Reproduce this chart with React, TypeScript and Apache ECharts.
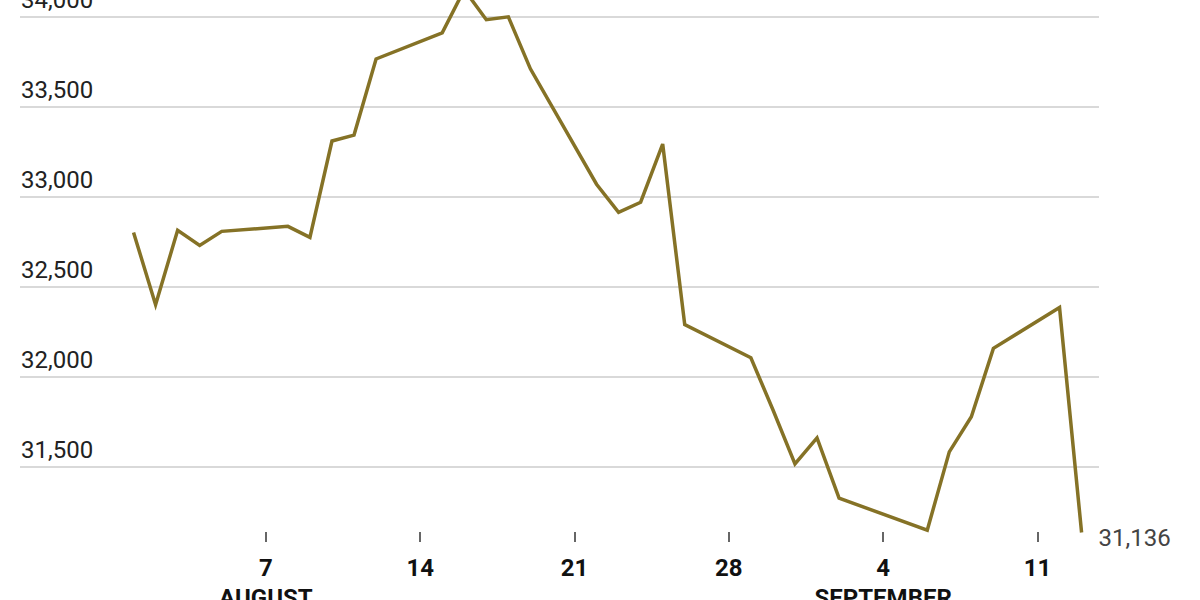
import { useEffect, useRef } from "react";
import * as echarts from "echarts";

// trading days, Aug 1 – Sep 13 (month index 7 = August)
const dates: [number, number][] = [
  [7, 1], [7, 2], [7, 3], [7, 4], [7, 5],
  [7, 8], [7, 9], [7, 10], [7, 11], [7, 12],
  [7, 15], [7, 16], [7, 17], [7, 18], [7, 19],
  [7, 22], [7, 23], [7, 24], [7, 25], [7, 26],
  [7, 29], [7, 30], [7, 31], [8, 1], [8, 2],
  [8, 6], [8, 7], [8, 8], [8, 9],
  [8, 12], [8, 13],
];

const closes: number[] = [
  32803, 32402, 32815, 32731, 32809,
  32837, 32776, 33311, 33344, 33767,
  33912, 34152, 33985, 34001, 33712,
  33071, 32915, 32971, 33294, 32291,
  32107, 31818, 31517, 31662, 31327,
  31149, 31584, 31779, 32159, 32386,
  31136,
];

// weekly ticks on the x axis
const tickDates: [number, number][] = [
  [7, 7], [7, 14], [7, 21], [7, 28], [8, 4], [8, 11],
];
const monthLabels: Record<string, string> = {
  "7-7": "AUGUST",
  "8-4": "SEPTEMBER",
};

const endLabel = "31,136";

const DAY = 86400000;
const ORIGIN = new Date(2022, 7, 1).getTime();
// days since Aug 1
const dayOf = ([m, d]: [number, number]) =>
  Math.round((new Date(2022, m, d).getTime() - ORIGIN) / DAY);

// chart is taller than the page and shifted up, so the top is cropped
const SHIFT = 73;

const App = () => {
  const chartRef = useRef<HTMLDivElement>(null);

  useEffect(() => {
    if (!chartRef.current) return;
    document.body.style.margin = "0";
    document.body.style.overflow = "hidden";

    const chart = echarts.init(chartRef.current, null, { renderer: "svg" });
    const ticks = tickDates.map(dayOf);

    const option: echarts.EChartsOption = {
      animation: false,
      grid: {
        left: 20,
        right: 101,
        top: 0,
        bottom: 43,
        containLabel: false,
        outerBoundsMode: "none",
      } as any,
      xAxis: {
        type: "value",
        min: -5.15,
        max: 43.79,
        offset: -25,
        axisLine: { show: false },
        axisTick: {
          show: true,
          length: 10,
          lineStyle: { color: "#333", width: 1.5 },
          customValues: ticks,
        } as any,
        axisLabel: {
          customValues: ticks,
          margin: 21,
          hideOverlap: false,
          formatter: (v: number) => {
            const d = new Date(ORIGIN + Math.round(v) * DAY);
            const m = monthLabels[`${d.getMonth()}-${d.getDate()}`];
            return m ? `{d|${d.getDate()}}\n{m|${m}}` : `{d|${d.getDate()}}`;
          },
          rich: {
            d: {
              fontFamily: "'Liberation Sans Narrow', Roboto",
              fontWeight: "bold",
              fontSize: 24,
              color: "#111",
              lineHeight: 30,
            },
            m: {
              fontFamily: "'Liberation Sans Narrow', Roboto",
              fontWeight: "bold",
              fontSize: 24,
              color: "#111",
              lineHeight: 30,
            },
          },
        } as any,
        splitLine: { show: false },
      },
      yAxis: {
        type: "value",
        min: 31000,
        max: 34500,
        interval: 500,
        axisLine: { show: false },
        axisTick: { show: false },
        axisLabel: {
          inside: true,
          margin: 1,
          verticalAlign: "bottom",
          padding: [0, 0, 5, 0],
          color: "#222",
          fontFamily: "Roboto",
          fontSize: 24,
          showMinLabel: false,
          showMaxLabel: false,
          formatter: (v: number) =>
            v === 31000 || v === 34500 ? "" : v.toLocaleString("en-US"),
        },
        splitLine: {
          show: true,
          showMinLine: false,
          lineStyle: { color: "#d9d9d9", width: 2 },
        } as any,
      },
      series: [
        {
          type: "line",
          data: dates.map((d, i) => [dayOf(d), closes[i]]),
          showSymbol: false,
          symbol: "none",
          clip: false,
          lineStyle: { color: "#857226", width: 3.5, join: "miter" } as any,
          endLabel: {
            show: true,
            formatter: endLabel,
            color: "#444",
            fontFamily: "Roboto",
            fontSize: 24,
            distance: 17,
            offset: [0, 5],
          } as any,
        },
      ],
    };

    chart.setOption(option);
    return () => chart.dispose();
  }, []);

  return (
    <div
      ref={chartRef}
      style={{ position: "absolute", left: 0, top: -SHIFT, width: 1200, height: 600 + SHIFT }}
    />
  );
};

export default App;
